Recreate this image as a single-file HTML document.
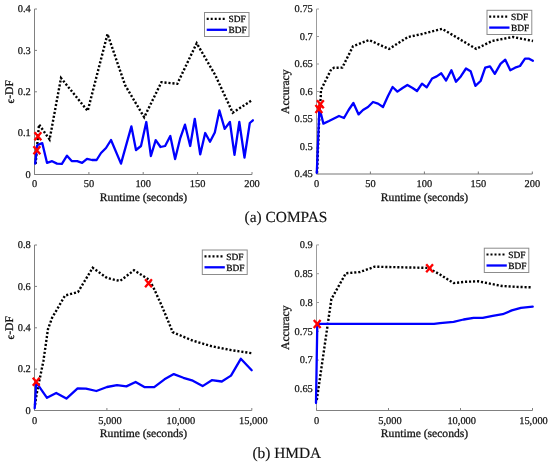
<!DOCTYPE html>
<html><head><meta charset="utf-8"><title>Runtime comparison</title>
<style>
html,body{margin:0;padding:0;background:#fff;}
body{width:550px;height:465px;overflow:hidden;}
svg{display:block;text-rendering:geometricPrecision;}
text{font-family:"Liberation Serif", "DejaVu Serif", serif;fill:#262626;}
.tk{font-size:10.4px;fill:#151515;stroke:#151515;stroke-width:0.25px;}
.al{font-size:11.6px;fill:#151515;stroke:#151515;stroke-width:0.3px;}
.lg{font-size:9.4px;fill:#000;stroke:#000;stroke-width:0.25px;}
.cap{font-size:15.4px;fill:#111;stroke:#111;stroke-width:0.15px;}
</style></head>
<body>
<svg width="550" height="465" viewBox="0 0 550 465">
<rect width="550" height="465" fill="#fff"/>
<path d="M34.5,9.0 V174.5" fill="none" stroke="#808080" stroke-width="1"/>
<path d="M34.5,174.5 H252.0" fill="none" stroke="#808080" stroke-width="1"/>
<path d="M34.5,174.5 v-2.5" stroke="#808080" stroke-width="1"/>
<path d="M88.9,174.5 v-2.5" stroke="#808080" stroke-width="1"/>
<path d="M143.2,174.5 v-2.5" stroke="#808080" stroke-width="1"/>
<path d="M197.6,174.5 v-2.5" stroke="#808080" stroke-width="1"/>
<path d="M252.0,174.5 v-2.5" stroke="#808080" stroke-width="1"/>
<path d="M34.5,174.5 h2.5" stroke="#808080" stroke-width="1"/>
<path d="M34.5,133.1 h2.5" stroke="#808080" stroke-width="1"/>
<path d="M34.5,91.8 h2.5" stroke="#808080" stroke-width="1"/>
<path d="M34.5,50.4 h2.5" stroke="#808080" stroke-width="1"/>
<path d="M34.5,9.0 h2.5" stroke="#808080" stroke-width="1"/>
<text x="34.5" y="187.4" text-anchor="middle" class="tk">0</text>
<text x="88.9" y="187.4" text-anchor="middle" class="tk">50</text>
<text x="143.2" y="187.4" text-anchor="middle" class="tk">100</text>
<text x="197.6" y="187.4" text-anchor="middle" class="tk">150</text>
<text x="252.0" y="187.4" text-anchor="middle" class="tk">200</text>
<text x="30.8" y="177.8" text-anchor="end" class="tk">0</text>
<text x="30.8" y="136.4" text-anchor="end" class="tk">0.1</text>
<text x="30.8" y="95.0" text-anchor="end" class="tk">0.2</text>
<text x="30.8" y="53.7" text-anchor="end" class="tk">0.3</text>
<text x="30.8" y="12.3" text-anchor="end" class="tk">0.4</text>
<polyline points="35.6,164.0 39.0,124.5 49.6,139.5 61.0,78.0 87.7,110.9 107.5,34.0 125.1,85.2 144.2,117.3 161.4,82.2 177.3,83.8 196.7,43.2 215.3,75.2 232.7,112.7 252.5,99.9" fill="none" stroke="#000" stroke-width="2.4" stroke-dasharray="2.1 1.9" stroke-linejoin="miter"/>
<polyline points="35.2,163.6 37.1,145.4 38.5,144.6 42.3,143.2 47.0,162.8 52.1,161.2 57.0,163.6 61.9,163.9 67.0,155.7 71.7,161.0 77.2,161.2 82.1,162.8 87.0,158.8 92.0,160.0 96.6,160.0 101.0,153.0 106.0,148.0 111.0,140.0 121.0,163.6 131.4,126.4 136.0,150.0 141.0,146.0 146.3,122.0 150.9,156.0 155.7,140.1 160.5,147.0 165.1,146.0 170.3,136.0 175.1,159.0 180.1,138.7 185.0,124.7 190.2,146.0 194.8,118.8 200.2,154.4 205.2,133.0 210.0,141.8 214.8,132.4 219.4,110.5 224.7,128.9 229.9,122.0 234.5,154.8 239.3,122.0 244.5,157.5 249.8,123.0 252.9,120.3" fill="none" stroke="#0000ff" stroke-width="2.3" stroke-linejoin="round" stroke-linecap="round"/>
<path d="M34.5,132.3 L41.3,140.3 M41.3,132.3 L34.5,140.3" stroke="#ff0000" stroke-width="2.3"/>
<path d="M33.5,146.3 L40.3,154.3 M40.3,146.3 L33.5,154.3" stroke="#ff0000" stroke-width="2.3"/>
<rect x="204.5" y="12.5" width="44.5" height="24" fill="#fff" stroke="#8c8c8c" stroke-width="1"/>
<line x1="206.7" y1="18.8" x2="225.0" y2="18.8" stroke="#000" stroke-width="2.2" stroke-dasharray="2 2"/>
<line x1="206.7" y1="29.8" x2="227.0" y2="29.8" stroke="#0000ff" stroke-width="2.3"/>
<text x="228.5" y="22.0" class="lg">SDF</text>
<text x="228.5" y="33.0" class="lg">BDF</text>
<path d="M316.5,9.0 V174.0" fill="none" stroke="#9c9c9c" stroke-width="1"/>
<path d="M316.5,174.0 H532.3" fill="none" stroke="#777" stroke-width="1"/>
<path d="M316.5,174.0 v-2.5" stroke="#777" stroke-width="1"/>
<path d="M370.4,174.0 v-2.5" stroke="#777" stroke-width="1"/>
<path d="M424.4,174.0 v-2.5" stroke="#777" stroke-width="1"/>
<path d="M478.3,174.0 v-2.5" stroke="#777" stroke-width="1"/>
<path d="M532.3,174.0 v-2.5" stroke="#777" stroke-width="1"/>
<path d="M316.5,174.0 h2.5" stroke="#9c9c9c" stroke-width="1"/>
<path d="M316.5,146.5 h2.5" stroke="#9c9c9c" stroke-width="1"/>
<path d="M316.5,119.0 h2.5" stroke="#9c9c9c" stroke-width="1"/>
<path d="M316.5,91.5 h2.5" stroke="#9c9c9c" stroke-width="1"/>
<path d="M316.5,64.0 h2.5" stroke="#9c9c9c" stroke-width="1"/>
<path d="M316.5,36.5 h2.5" stroke="#9c9c9c" stroke-width="1"/>
<path d="M316.5,9.0 h2.5" stroke="#9c9c9c" stroke-width="1"/>
<text x="316.5" y="187.4" text-anchor="middle" class="tk">0</text>
<text x="370.4" y="187.4" text-anchor="middle" class="tk">50</text>
<text x="424.4" y="187.4" text-anchor="middle" class="tk">100</text>
<text x="478.3" y="187.4" text-anchor="middle" class="tk">150</text>
<text x="532.3" y="187.4" text-anchor="middle" class="tk">200</text>
<text x="312.8" y="177.3" text-anchor="end" class="tk">0.45</text>
<text x="312.8" y="149.8" text-anchor="end" class="tk">0.5</text>
<text x="312.8" y="122.3" text-anchor="end" class="tk">0.55</text>
<text x="312.8" y="94.8" text-anchor="end" class="tk">0.6</text>
<text x="312.8" y="67.3" text-anchor="end" class="tk">0.65</text>
<text x="312.8" y="39.8" text-anchor="end" class="tk">0.7</text>
<text x="312.8" y="12.3" text-anchor="end" class="tk">0.75</text>
<polyline points="317.0,173.0 319.8,104.0 320.7,99.0 320.9,90.0 331.2,69.3 334.0,67.8 342.3,67.6 353.0,46.3 369.0,40.0 389.0,49.0 408.0,37.0 422.0,34.0 442.0,28.8 476.2,48.9 492.0,41.0 513.0,37.0 533.0,41.0" fill="none" stroke="#000" stroke-width="2.4" stroke-dasharray="2.1 1.9" stroke-linejoin="miter"/>
<polyline points="316.8,172.9 319.3,110.1 320.0,110.0 323.4,123.6 329.0,121.0 335.0,118.0 339.0,116.0 344.0,118.0 348.6,110.0 353.4,103.0 358.6,114.4 363.0,110.0 368.0,107.0 373.0,102.0 378.0,103.6 383.0,107.0 388.0,96.0 392.6,87.0 397.4,91.6 402.6,88.0 407.4,85.0 412.6,88.0 417.0,91.0 422.0,83.6 426.7,87.3 432.1,78.5 436.7,76.4 441.3,73.3 446.1,80.6 451.4,70.2 456.0,81.7 460.8,76.4 466.0,68.5 470.6,71.2 475.4,85.9 480.6,81.0 485.2,67.7 490.0,66.4 494.8,73.9 500.5,63.9 505.3,59.7 510.3,70.2 515.1,67.7 520.0,66.0 525.0,58.7 529.1,58.7 532.9,60.8" fill="none" stroke="#0000ff" stroke-width="2.3" stroke-linejoin="round" stroke-linecap="round"/>
<path d="M317.0,100.2 L323.8,108.2 M323.8,100.2 L317.0,108.2" stroke="#ff0000" stroke-width="2.3"/>
<path d="M315.5,104.9 L322.3,112.9 M322.3,104.9 L315.5,112.9" stroke="#ff0000" stroke-width="2.3"/>
<rect x="487" y="10.3" width="44.8" height="24.2" fill="#fff" stroke="#8c8c8c" stroke-width="1"/>
<line x1="489.2" y1="16.6" x2="507.5" y2="16.6" stroke="#000" stroke-width="2.2" stroke-dasharray="2 2"/>
<line x1="489.2" y1="27.6" x2="509.5" y2="27.6" stroke="#0000ff" stroke-width="2.3"/>
<text x="511.0" y="19.8" class="lg">SDF</text>
<text x="511.0" y="30.8" class="lg">BDF</text>
<path d="M34.5,245.0 V410.5" fill="none" stroke="#808080" stroke-width="1"/>
<path d="M34.5,410.5 H251.8" fill="none" stroke="#808080" stroke-width="1"/>
<path d="M34.5,410.5 v-2.5" stroke="#808080" stroke-width="1"/>
<path d="M106.9,410.5 v-2.5" stroke="#808080" stroke-width="1"/>
<path d="M179.4,410.5 v-2.5" stroke="#808080" stroke-width="1"/>
<path d="M251.8,410.5 v-2.5" stroke="#808080" stroke-width="1"/>
<path d="M34.5,410.5 h2.5" stroke="#808080" stroke-width="1"/>
<path d="M34.5,369.1 h2.5" stroke="#808080" stroke-width="1"/>
<path d="M34.5,327.8 h2.5" stroke="#808080" stroke-width="1"/>
<path d="M34.5,286.4 h2.5" stroke="#808080" stroke-width="1"/>
<path d="M34.5,245.0 h2.5" stroke="#808080" stroke-width="1"/>
<text x="34.5" y="423.6" text-anchor="middle" class="tk">0</text>
<text x="109.9" y="423.6" text-anchor="middle" class="tk">5,000</text>
<text x="180.9" y="423.6" text-anchor="middle" class="tk">10,000</text>
<text x="253.4" y="423.6" text-anchor="middle" class="tk">15,000</text>
<text x="30.8" y="413.8" text-anchor="end" class="tk">0</text>
<text x="30.8" y="372.4" text-anchor="end" class="tk">0.2</text>
<text x="30.8" y="331.1" text-anchor="end" class="tk">0.4</text>
<text x="30.8" y="289.7" text-anchor="end" class="tk">0.6</text>
<text x="30.8" y="248.3" text-anchor="end" class="tk">0.8</text>
<polyline points="35.0,405.0 36.7,393.6 39.5,380.0 43.4,361.0 48.0,329.0 52.0,318.0 65.0,295.6 78.0,292.0 92.7,267.8 107.0,278.0 120.0,281.0 134.0,270.3 148.8,279.5 153.0,286.5 161.1,304.3 169.2,323.6 172.6,332.0 177.3,334.2 192.8,340.6 211.4,346.2 231.0,350.1 251.7,353.2" fill="none" stroke="#000" stroke-width="2.4" stroke-dasharray="2.1 1.9" stroke-linejoin="miter"/>
<polyline points="34.7,408.2 36.2,382.4 47.0,397.8 56.2,393.0 66.4,398.6 77.6,388.4 86.0,388.6 96.4,391.0 107.0,387.0 117.0,385.2 126.4,386.4 135.6,382.0 144.8,387.2 154.2,387.2 164.5,379.3 173.8,374.1 183.4,377.8 192.8,380.7 202.6,386.1 211.8,380.2 221.8,381.5 231.0,375.6 240.8,358.8 251.7,370.2" fill="none" stroke="#0000ff" stroke-width="2.3" stroke-linejoin="round" stroke-linecap="round"/>
<path d="M32.8,377.8 L39.6,385.8 M39.6,377.8 L32.8,385.8" stroke="#ff0000" stroke-width="2.3"/>
<path d="M145.1,279.2 L151.9,287.2 M151.9,279.2 L145.1,287.2" stroke="#ff0000" stroke-width="2.3"/>
<rect x="202.3" y="250" width="44.9" height="24.5" fill="#fff" stroke="#8c8c8c" stroke-width="1"/>
<line x1="204.5" y1="256.3" x2="222.8" y2="256.3" stroke="#000" stroke-width="2.2" stroke-dasharray="2 2"/>
<line x1="204.5" y1="267.3" x2="224.8" y2="267.3" stroke="#0000ff" stroke-width="2.3"/>
<text x="226.3" y="259.5" class="lg">SDF</text>
<text x="226.3" y="270.5" class="lg">BDF</text>
<path d="M316.5,244.9 V410.5" fill="none" stroke="#9c9c9c" stroke-width="1"/>
<path d="M316.5,410.5 H532.5" fill="none" stroke="#808080" stroke-width="1"/>
<path d="M316.5,410.5 v-2.5" stroke="#808080" stroke-width="1"/>
<path d="M388.5,410.5 v-2.5" stroke="#808080" stroke-width="1"/>
<path d="M460.5,410.5 v-2.5" stroke="#808080" stroke-width="1"/>
<path d="M532.5,410.5 v-2.5" stroke="#808080" stroke-width="1"/>
<path d="M316.5,388.9 h2.5" stroke="#9c9c9c" stroke-width="1"/>
<path d="M316.5,360.1 h2.5" stroke="#9c9c9c" stroke-width="1"/>
<path d="M316.5,331.3 h2.5" stroke="#9c9c9c" stroke-width="1"/>
<path d="M316.5,302.5 h2.5" stroke="#9c9c9c" stroke-width="1"/>
<path d="M316.5,273.7 h2.5" stroke="#9c9c9c" stroke-width="1"/>
<path d="M316.5,244.9 h2.5" stroke="#9c9c9c" stroke-width="1"/>
<text x="316.5" y="423.6" text-anchor="middle" class="tk">0</text>
<text x="389.9" y="423.6" text-anchor="middle" class="tk">5,000</text>
<text x="461.7" y="423.6" text-anchor="middle" class="tk">10,000</text>
<text x="533.5" y="423.6" text-anchor="middle" class="tk">15,000</text>
<text x="312.8" y="392.2" text-anchor="end" class="tk">0.65</text>
<text x="312.8" y="363.4" text-anchor="end" class="tk">0.7</text>
<text x="312.8" y="334.6" text-anchor="end" class="tk">0.75</text>
<text x="312.8" y="305.8" text-anchor="end" class="tk">0.8</text>
<text x="312.8" y="277.0" text-anchor="end" class="tk">0.85</text>
<text x="312.8" y="248.2" text-anchor="end" class="tk">0.9</text>
<polyline points="316.8,400.0 331.4,299.0 345.8,273.3 360.0,272.0 374.6,266.7 428.0,267.9 440.0,274.5 453.6,283.1 465.5,281.8 478.2,281.3 487.3,283.1 501.8,286.0 516.4,286.9 530.9,287.3" fill="none" stroke="#000" stroke-width="2.4" stroke-dasharray="2.1 1.9" stroke-linejoin="miter"/>
<polyline points="316.0,403.0 317.3,323.9 360.0,323.9 434.0,323.9 440.0,323.1 453.6,321.8 463.6,319.5 473.6,317.8 482.7,317.8 492.7,315.8 502.7,314.2 511.8,310.4 520.9,307.8 532.7,306.7" fill="none" stroke="#0000ff" stroke-width="2.3" stroke-linejoin="round" stroke-linecap="round"/>
<path d="M313.8,320.0 L320.6,328.0 M320.6,320.0 L313.8,328.0" stroke="#ff0000" stroke-width="2.3"/>
<path d="M426.2,264.3 L433.0,272.3 M433.0,264.3 L426.2,272.3" stroke="#ff0000" stroke-width="2.3"/>
<rect x="484.3" y="248.2" width="44.5" height="24.3" fill="#fff" stroke="#8c8c8c" stroke-width="1"/>
<line x1="486.5" y1="254.5" x2="504.8" y2="254.5" stroke="#000" stroke-width="2.2" stroke-dasharray="2 2"/>
<line x1="486.5" y1="265.5" x2="506.8" y2="265.5" stroke="#0000ff" stroke-width="2.3"/>
<text x="508.3" y="257.7" class="lg">SDF</text>
<text x="508.3" y="268.7" class="lg">BDF</text>
<text x="143.5" y="201.3" text-anchor="middle" class="al">Runtime (seconds)</text>
<text x="424.5" y="201.3" text-anchor="middle" class="al">Runtime (seconds)</text>
<text x="143.5" y="436.5" text-anchor="middle" class="al">Runtime (seconds)</text>
<text x="424.5" y="436.5" text-anchor="middle" class="al">Runtime (seconds)</text>
<text transform="translate(12.8,91.8) rotate(-90)" text-anchor="middle" class="al"><tspan dy="0.9">ϵ</tspan><tspan dy="-0.9">-DF</tspan></text>
<text transform="translate(12.8,327.8) rotate(-90)" text-anchor="middle" class="al"><tspan dy="0.9">ϵ</tspan><tspan dy="-0.9">-DF</tspan></text>
<text transform="translate(289.2,91.7) rotate(-90)" text-anchor="middle" class="al">Accuracy</text>
<text transform="translate(289.2,327.7) rotate(-90)" text-anchor="middle" class="al">Accuracy</text>
<text x="286" y="222" text-anchor="middle" class="cap">(a) COMPAS</text>
<text x="286.8" y="458.4" text-anchor="middle" class="cap">(b) HMDA</text>
</svg>
</body></html>
